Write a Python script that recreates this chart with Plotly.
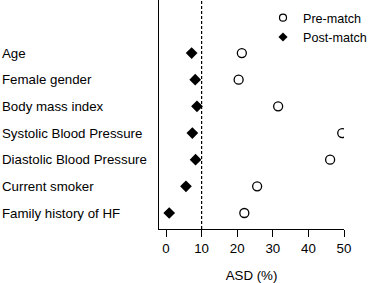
import plotly.graph_objects as go

categories = ["Age", "Female gender", "Body mass index", "Systolic Blood Pressure",
              "Diastolic Blood Pressure", "Current smoker", "Family history of HF"]
pre_match = [21.3, 20.4, 31.5, 49.5, 46.1, 25.6, 22.0]
post_match = [7.2, 8.2, 8.7, 7.4, 8.3, 5.6, 0.9]
x_ticks = [0, 10, 20, 30, 40, 50]
threshold = 10

n = len(categories)
ypos = [n - i for i in range(n)]

FONT = "Arial, Liberation Sans, Helvetica, sans-serif"
FS = 13.3

fig = go.Figure()
fig.add_trace(go.Scatter(
    x=pre_match, y=ypos, mode="markers", name="Pre-match", showlegend=False,
    marker=dict(symbol="circle-open", size=9, color="black", line=dict(width=1.3, color="black")),
))
fig.add_trace(go.Scatter(
    x=post_match, y=ypos, mode="markers", name="Post-match", showlegend=False,
    marker=dict(symbol="diamond", size=9, color="black"),
))
# legend entries (smaller symbols as in the reference)
fig.add_trace(go.Scatter(
    x=[None], y=[None], mode="markers", name="Pre-match",
    marker=dict(symbol="circle-open", size=7, color="black", line=dict(width=1.2, color="black")),
))
fig.add_trace(go.Scatter(
    x=[None], y=[None], mode="markers", name="Post-match",
    marker=dict(symbol="diamond", size=7, color="black"),
))

fig.add_shape(type="line", x0=threshold, x1=threshold, xref="x", y0=0, y1=1, yref="paper",
              line=dict(color="black", width=1.2, dash="3px,2px"))

for cat, y in zip(categories, ypos):
    fig.add_annotation(text=cat, x=-159 / 185, xref="paper", y=y, yref="y",
                       xanchor="left", yanchor="middle", showarrow=False,
                       font=dict(family=FONT, size=FS, color="black"))

fig.update_layout(
    width=368, height=283,
    margin=dict(l=159, r=24, t=0, b=54, autoexpand=False),
    paper_bgcolor="white", plot_bgcolor="white",
    font=dict(family=FONT, size=FS, color="black"),
    showlegend=True,
    legend=dict(xref="container", yref="container", x=263 / 368, y=1 - 3 / 283,
                xanchor="left", yanchor="top", bgcolor="rgba(0,0,0,0)",
                font=dict(family=FONT, size=12.6, color="black"),
                tracegroupgap=0, itemwidth=30),
    xaxis=dict(range=[-1.97, 50], tickvals=x_ticks, ticks="outside", ticklen=7, tickwidth=1.2,
               tickcolor="black", showline=True, linecolor="black", linewidth=1.2,
               showgrid=False, zeroline=False,
               title=dict(text="ASD (%)", standoff=15, font=dict(family=FONT, size=FS)),
               tickfont=dict(family=FONT, size=FS)),
    yaxis=dict(range=[0.4, 8.99], showline=True, linecolor="black", linewidth=1.2,
               showticklabels=False, ticks="", showgrid=False, zeroline=False),
)

fig.write_html("out.html", config={"displayModeBar": False},
               post_script="document.body.style.margin='0';")
